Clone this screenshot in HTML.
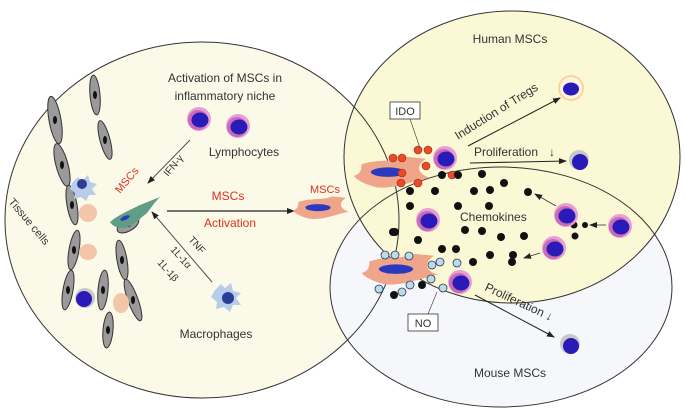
<!DOCTYPE html>
<html><head><meta charset="utf-8"><style>
html,body{margin:0;padding:0;background:#fff;}
svg{display:block;font-family:"Liberation Sans",sans-serif;}
</style></head><body>
<svg width="685" height="410" viewBox="0 0 685 410" xmlns="http://www.w3.org/2000/svg">
<defs>
<marker id="ah" markerWidth="8" markerHeight="8" refX="7" refY="4" orient="auto" markerUnits="userSpaceOnUse"><path d="M0,1 L8,4 L0,7 Z" fill="#222"/></marker>
<g id="lym"><circle r="12" fill="#e7a0d4"/><circle cx="-1" cy="1" r="10" fill="#c86ab5"/><ellipse cx="1" cy="1" rx="8.5" ry="7.5" fill="#2a1ab8"/></g>
<g id="pmn"><path d="M-14,-5 C-6,-8 4,-6 10,-9 L20,-8 C14,-4 16,0 22,2 C12,4 4,8 -6,7 C-10,6 -16,4 -18,1 C-14,0 -14,-3 -14,-5Z" fill="#eea58a"/><ellipse cx="0" cy="-1" rx="9" ry="2.5" fill="#2a3ac0"/></g>
</defs>
<rect width="685" height="410" fill="#fff"/>
<ellipse cx="202" cy="220" rx="197" ry="178" fill="#fbf9e7"/>
<ellipse cx="501" cy="287" rx="171" ry="120" fill="#f5f7fb"/>
<ellipse cx="512" cy="157" rx="168" ry="146" fill="#fbf8d6"/>
<ellipse cx="202" cy="220" rx="197" ry="178" fill="none" stroke="#333" stroke-width="1"/>
<ellipse cx="501" cy="287" rx="171" ry="120" fill="none" stroke="#333" stroke-width="1"/>
<ellipse cx="512" cy="157" rx="168" ry="146" fill="none" stroke="#333" stroke-width="1"/>

<g fill="#9a9a9a" stroke="#333" stroke-width="1">
<ellipse cx="55" cy="120" rx="6" ry="24" transform="rotate(-10 55 120)"/>
<ellipse cx="62" cy="165" rx="6" ry="22" transform="rotate(-15 62 165)"/>
<ellipse cx="72" cy="205" rx="5" ry="20" transform="rotate(-10 72 205)"/>
<ellipse cx="74" cy="250" rx="5" ry="20" transform="rotate(10 74 250)"/>
<ellipse cx="68" cy="290" rx="5" ry="20" transform="rotate(10 68 290)"/>
<ellipse cx="95" cy="95" rx="5" ry="20" transform="rotate(-5 95 95)"/>
<ellipse cx="105" cy="140" rx="5" ry="20" transform="rotate(-15 105 140)"/>
<ellipse cx="128" cy="225" rx="6" ry="12" transform="rotate(60 128 225)"/>
<ellipse cx="122" cy="260" rx="5" ry="20" transform="rotate(-10 122 260)"/>
<ellipse cx="133" cy="300" rx="5" ry="22" transform="rotate(-20 133 300)"/>
<ellipse cx="103" cy="290" rx="5" ry="20" transform="rotate(5 103 290)"/>
<ellipse cx="108" cy="330" rx="5" ry="18" transform="rotate(5 108 330)"/>
</g>
<g fill="#111">
<ellipse cx="55" cy="120" rx="2" ry="4"/><ellipse cx="62" cy="165" rx="2" ry="4"/><ellipse cx="72" cy="205" rx="2" ry="4"/><ellipse cx="74" cy="250" rx="2" ry="4"/><ellipse cx="68" cy="290" rx="2" ry="4"/><ellipse cx="95" cy="95" rx="2" ry="4"/><ellipse cx="105" cy="140" rx="2" ry="4"/><ellipse cx="128" cy="225" rx="3" ry="2"/><ellipse cx="122" cy="260" rx="2" ry="4"/><ellipse cx="133" cy="300" rx="2" ry="4"/><ellipse cx="103" cy="290" rx="2" ry="4"/><ellipse cx="108" cy="330" rx="2" ry="4"/>
</g>
<ellipse cx="88" cy="213" rx="9" ry="9" fill="#f2c6a6"/>
<ellipse cx="88" cy="252" rx="9" ry="8" fill="#f2c6a6"/>
<ellipse cx="121" cy="303" rx="8" ry="10" fill="#f2c6a6"/>
<circle cx="85" cy="298" r="10" fill="#c8c8c8"/><circle cx="84" cy="299" r="8" fill="#2a1ab8"/>
<path d="M72,183 l6,-6 l4,4 l6,-6 l2,7 l7,2 l-5,5 l4,6 l-7,0 l-3,6 l-5,-4 l-7,2 l1,-6 l-5,-4z" fill="#b8cdea"/>
<circle cx="82" cy="184" r="5" fill="#2c3d95"/>
<path d="M110,222 C118,215 130,210 140,205 L160,197 C152,205 150,210 146,214 C140,218 138,222 130,226 C122,230 114,228 110,222Z" fill="#5f9e84"/>
<ellipse cx="125" cy="218" rx="5" ry="2" fill="#2a3ac0" transform="rotate(-25 125 218)"/>
<text x="120" y="194" font-size="11" fill="#e03020" transform="rotate(-50 120 194)">MSCs</text>
<text x="8" y="202" font-size="11" fill="#333" transform="rotate(50 8 202)">Tissue cells</text>

<text x="225" y="82" font-size="12" fill="#333" text-anchor="middle">Activation of MSCs in</text>
<text x="225" y="100" font-size="12" fill="#333" text-anchor="middle">inflammatory niche</text>
<use href="#lym" x="199" y="119"/><use href="#lym" x="238" y="126"/>
<text x="244" y="156" font-size="12" fill="#333" text-anchor="middle">Lymphocytes</text>
<line x1="190" y1="140" x2="148" y2="183" stroke="#555" stroke-width="1" marker-end="url(#ah)"/>
<text x="168" y="177" font-size="10" fill="#333" transform="rotate(-50 168 177)">IFN-γ</text>
<line x1="212" y1="282" x2="152" y2="212" stroke="#555" stroke-width="1" marker-end="url(#ah)"/>
<text x="188" y="240" font-size="10" fill="#333" transform="rotate(48 188 240)">TNF</text>
<text x="170" y="250" font-size="10" fill="#333" transform="rotate(48 170 250)">1L-1α</text>
<text x="157" y="263" font-size="10" fill="#333" transform="rotate(48 157 263)">1L-1β</text>
<path d="M215,290 l6,-6 l4,4 l6,-5 l2,8 l8,2 l-5,5 l5,7 l-8,0 l-3,7 l-6,-5 l-8,2 l1,-7 l-6,-5z" fill="#b8cdea"/>
<circle cx="228" cy="298" r="6" fill="#2c3d95"/>
<text x="216" y="338" font-size="12" fill="#333" text-anchor="middle">Macrophages</text>

<line x1="167" y1="211" x2="294" y2="211" stroke="#222" stroke-width="1.2" marker-end="url(#ah)"/>
<text x="228" y="200" font-size="12" fill="#e03020" text-anchor="middle">MSCs</text>
<text x="230" y="227" font-size="12" fill="#e03020" text-anchor="middle">Activation</text>
<text x="325" y="193" font-size="11" fill="#e03020" text-anchor="middle">MSCs</text>
<use href="#pmn" transform="translate(318 209) scale(1.4)"/>

<text x="510" y="43" font-size="12" fill="#333" text-anchor="middle">Human MSCs</text>
<use href="#pmn" transform="translate(388 174) scale(1.9)"/>
<g fill="#e84a2a" stroke="#9a2a10" stroke-width="0.6">
<circle cx="393" cy="158" r="4"/><circle cx="402" cy="158" r="4"/><circle cx="418" cy="150" r="4"/><circle cx="428" cy="150" r="4"/><circle cx="426" cy="166" r="4"/><circle cx="402" cy="173" r="4"/><circle cx="418" cy="183" r="4"/><circle cx="401" cy="183" r="4"/><circle cx="452" cy="175" r="4"/>
</g>
<use href="#lym" x="445" y="158"/>
<rect x="390" y="102" width="30" height="17" fill="#fff" stroke="#333" stroke-width="0.8"/>
<text x="405" y="115" font-size="11" fill="#333" text-anchor="middle">IDO</text>
<polyline points="410,119 420,148 M414,119 427,146" fill="none" stroke="#333" stroke-width="0.6"/>
<line x1="468" y1="146" x2="560" y2="98" stroke="#222" stroke-width="1" marker-end="url(#ah)"/>
<text x="458" y="140" font-size="12" fill="#333" transform="rotate(-32 458 140)">Induction of Tregs</text>
<circle cx="571" cy="88" r="13" fill="#f6d6a3"/><circle cx="571" cy="88" r="11" fill="#fff4de"/><ellipse cx="571" cy="89" rx="8" ry="6.5" fill="#2a1ab8"/>
<text x="474" y="156" font-size="12" fill="#333">Proliferation</text>
<text x="549" y="156" font-size="12" fill="#333">↓</text>
<line x1="470" y1="163" x2="566" y2="161" stroke="#222" stroke-width="1" marker-end="url(#ah)"/>
<circle cx="579" cy="160" r="10" fill="#c8c8c8"/><circle cx="580" cy="162" r="8" fill="#2a1ab8"/>
<g fill="#111">
<circle cx="442" cy="175" r="4"/><circle cx="458" cy="175" r="4"/><circle cx="482" cy="174" r="4"/><circle cx="504" cy="183" r="4"/>
<circle cx="410" cy="191" r="4"/><circle cx="435" cy="191" r="4"/><circle cx="474" cy="191" r="4"/><circle cx="490" cy="190" r="4"/><circle cx="528" cy="192" r="4"/>
<circle cx="410" cy="206" r="4"/><circle cx="458" cy="206" r="4"/><circle cx="489" cy="206" r="4"/>
<circle cx="465" cy="230" r="4"/><circle cx="482" cy="231" r="4"/><circle cx="501" cy="237" r="4"/><circle cx="524" cy="236" r="4"/>
<circle cx="418" cy="240" r="4"/><circle cx="442" cy="249" r="4"/><circle cx="456" cy="249" r="4"/><circle cx="490" cy="255" r="4"/><circle cx="513" cy="255" r="4"/><circle cx="512" cy="262" r="4"/><circle cx="473" cy="262" r="4"/><circle cx="574" cy="225" r="3.5"/><circle cx="585" cy="225" r="3"/><circle cx="575" cy="236" r="3.5"/><circle cx="395" cy="232" r="4"/>
</g>
<use href="#lym" x="428" y="220"/>
<text x="460" y="221" font-size="12" fill="#333">Chemokines</text>
<use href="#lym" x="566" y="215"/><use href="#lym" x="620" y="226"/><use href="#lym" x="554" y="248"/>
<line x1="556" y1="206" x2="535" y2="194" stroke="#333" stroke-width="0.8" marker-end="url(#ah)"/>
<line x1="606" y1="225" x2="590" y2="225" stroke="#333" stroke-width="0.8" marker-end="url(#ah)"/>
<line x1="540" y1="253" x2="524" y2="258" stroke="#333" stroke-width="0.8" marker-end="url(#ah)"/>

<use href="#pmn" transform="translate(396 271) scale(1.9)"/>
<g fill="#b8dde8" stroke="#335" stroke-width="0.8">
<circle cx="385" cy="255" r="4"/><circle cx="395" cy="255" r="4"/><circle cx="409" cy="256" r="4"/><circle cx="440" cy="262" r="4"/><circle cx="457" cy="263" r="4"/>
<circle cx="379" cy="289" r="4"/><circle cx="402" cy="292" r="4"/><circle cx="410" cy="285" r="4"/><circle cx="431" cy="279" r="4"/><circle cx="443" cy="288" r="4"/><circle cx="432" cy="265" r="4"/>
</g>
<g fill="#111"><circle cx="394" cy="295" r="4"/><circle cx="422" cy="285" r="4"/><circle cx="393" cy="232" r="4"/></g>
<use href="#lym" x="460" y="282"/>
<rect x="408" y="314" width="30" height="17" fill="#fff" stroke="#333" stroke-width="0.8"/>
<text x="423" y="327" font-size="11" fill="#333" text-anchor="middle">NO</text>
<polyline points="428,314 437,292 M432,314 441,292" fill="none" stroke="#333" stroke-width="0.6"/>
<line x1="475" y1="295" x2="554" y2="337" stroke="#222" stroke-width="1" marker-end="url(#ah)"/>
<text x="484" y="290" font-size="12" fill="#333" transform="rotate(25 484 290)">Proliferation ↓</text>
<circle cx="570" cy="344" r="10" fill="#c8c8c8"/><circle cx="571" cy="346" r="8" fill="#2a1ab8"/>
<text x="510" y="377" font-size="12" fill="#333" text-anchor="middle">Mouse MSCs</text>
</svg>
</body></html>
